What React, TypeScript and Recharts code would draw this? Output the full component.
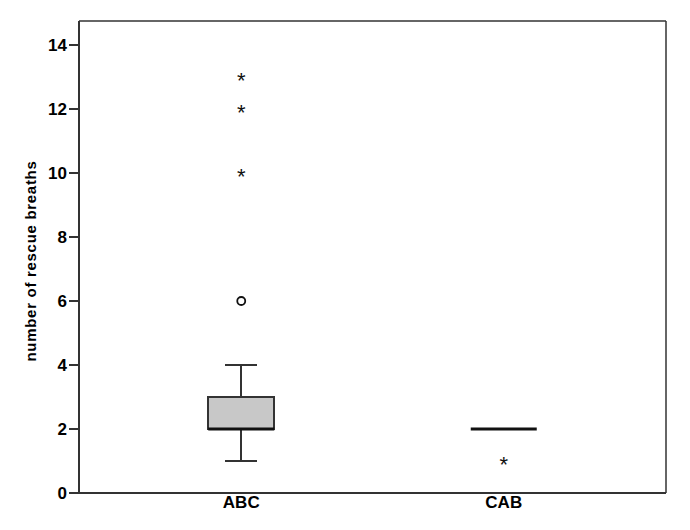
import React from "react";
import { ComposedChart, Bar, Scatter, XAxis, YAxis, CartesianGrid } from "recharts";

const categories = ["ABC", "CAB"];
const minValues = [1, 2];
const q1Values = [2, 2];
const medianValues = [2, 2];
const q3Values = [3, 2];
const maxValues = [4, 2];

// SPSS marks: circles = outliers, stars = extreme values
const outlierNames = ["ABC"];
const outlierValues = [6];
const extremeNames = ["ABC", "ABC", "ABC", "CAB"];
const extremeValues = [10, 12, 13, 1];

const yTicks = [0, 2, 4, 6, 8, 10, 12, 14];

const FONT = "'Liberation Sans', Arial, sans-serif";
const LINE = "#333";

const rows = categories.map((name, i) => ({
  name,
  floor: minValues[i],
  lowWhisker: q1Values[i] - minValues[i],
  box: q3Values[i] - q1Values[i],
  highWhisker: maxValues[i] - q3Values[i],
  median: medianValues[i],
}));

const outliers = outlierNames.map((name, i) => ({ name, value: outlierValues[i] }));
const extremes = extremeNames.map((name, i) => ({ name, value: extremeValues[i] }));

const LowWhisker = (p: any) => {
  const cx = p.x + p.width / 2;
  const bottom = p.y + p.height;
  return (
    <g>
      <line x1={cx} x2={cx} y1={p.y} y2={bottom} stroke={LINE} strokeWidth={2} />
      <line x1={cx - 16} x2={cx + 16} y1={bottom} y2={bottom} stroke={LINE} strokeWidth={2} />
    </g>
  );
};

const HighWhisker = (p: any) => {
  const cx = p.x + p.width / 2;
  return (
    <g>
      <line x1={cx} x2={cx} y1={p.y} y2={p.y + p.height} stroke={LINE} strokeWidth={2} />
      <line x1={cx - 16} x2={cx + 16} y1={p.y} y2={p.y} stroke={LINE} strokeWidth={2} />
    </g>
  );
};

const BoxShape = (p: any) => (
  <rect x={p.x} y={p.y} width={p.width} height={p.height} fill="#c8c8c8" stroke={LINE} strokeWidth={2} />
);

const MedianShape = (p: any) => (
  <line x1={p.cx - 33} x2={p.cx + 33} y1={p.cy} y2={p.cy} stroke="#111" strokeWidth={3} />
);

const CircleShape = (p: any) => (
  <circle cx={p.cx} cy={p.cy} r={4} fill="#fff" stroke="#111" strokeWidth={1.8} />
);

const StarShape = (p: any) => (
  <text x={p.cx} y={p.cy + 10.5} textAnchor="middle" fontSize={22} fontFamily={FONT} fill="#111">
    *
  </text>
);

const YLabel = (props: any) => {
  const vb = props.viewBox;
  const cy = vb.y + vb.height / 2 + 4;
  return (
    <text
      x={30}
      y={cy}
      transform={`rotate(-90, 30, ${cy})`}
      textAnchor="middle"
      dominantBaseline="central"
      fontFamily={FONT}
      fontWeight="bold"
      fontSize={15}
      letterSpacing={0.7}
      fill="#000"
    >
      number of rescue breaths
    </text>
  );
};

export default function App() {
  return (
    <div style={{ position: "absolute", left: 0, top: 0, background: "#fff" }}>
      <ComposedChart width={690} height={530} data={rows} margin={{ top: 21, right: 24, bottom: 0, left: 0 }}>
        {/* plot frame: grid lines only at the top and right edges */}
        <CartesianGrid
          stroke={LINE}
          strokeWidth={1.5}
          horizontalCoordinatesGenerator={({ offset }: any) => [offset.top]}
          verticalCoordinatesGenerator={({ offset }: any) => [offset.left + offset.width]}
        />
        <XAxis
          dataKey="name"
          type="category"
          allowDuplicatedCategory={false}
          padding={{ left: 31, right: 31 }}
          height={37}
          tickLine={false}
          tickSize={0}
          tickMargin={3}
          axisLine={{ stroke: LINE, strokeWidth: 2 }}
          tick={{ fill: "#000", fontSize: 17, fontWeight: "bold", fontFamily: FONT }}
        />
        <YAxis
          type="number"
          domain={[0, 14.75]}
          ticks={yTicks}
          width={79}
          tickSize={10}
          tickMargin={2}
          tickLine={{ stroke: LINE, strokeWidth: 2 }}
          axisLine={{ stroke: LINE, strokeWidth: 2 }}
          tick={{ fill: "#000", fontSize: 17, fontWeight: "bold", fontFamily: FONT }}
          label={<YLabel />}
        />
        <Bar dataKey="floor" stackId="b" barSize={66} fill="none" isAnimationActive={false} />
        <Bar dataKey="lowWhisker" stackId="b" barSize={66} shape={LowWhisker} isAnimationActive={false} />
        <Bar dataKey="box" stackId="b" barSize={66} shape={BoxShape} isAnimationActive={false} />
        <Bar dataKey="highWhisker" stackId="b" barSize={66} shape={HighWhisker} isAnimationActive={false} />
        <Scatter dataKey="median" shape={MedianShape} isAnimationActive={false} />
        <Scatter data={outliers} dataKey="value" shape={CircleShape} isAnimationActive={false} />
        <Scatter data={extremes} dataKey="value" shape={StarShape} isAnimationActive={false} />
      </ComposedChart>
    </div>
  );
}
